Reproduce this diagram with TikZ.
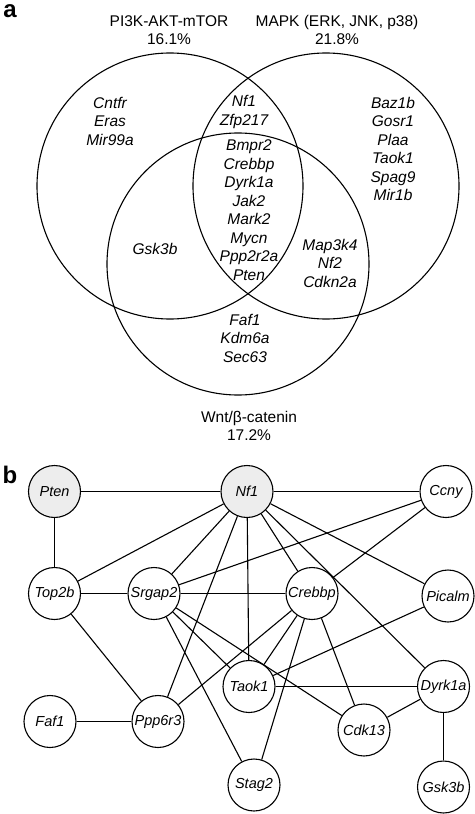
\documentclass[tikz,border=0pt]{standalone}
\usepackage{xcolor}
\usepackage{fontspec}
\setmainfont{Liberation Sans}
\usepackage{tikz}
\usetikzlibrary{positioning}
\definecolor{hitgray}{rgb}{0.93,0.93,0.93}

\begin{document}
\begin{tikzpicture}[x=1pt, y=-1pt, line width=1.1pt]
\tikzset{
    gene/.style = {circle, draw=black, fill=white, minimum size=52pt, inner sep=0pt,
        font=\fontsize{14.5}{16}\selectfont\itshape},
    hit/.style = {gene, fill=hitgray},
    venntext/.style = {align=center, font=\fontsize{15.5}{18.5}\selectfont\itshape},
    pathtext/.style = {align=center, font=\fontsize{15.5}{18.5}\selectfont},
    panel/.style = {font=\fontsize{24}{24}\selectfont\bfseries},
}
\useasboundingbox (0,0) rectangle (474,814);

% panel a
\node (pa) [panel] at (10,11) {a};
\draw (170,186) circle [radius=133pt];
\draw (326,186) circle [radius=133pt];
\draw (238,264) circle [radius=131pt];

\node (pi3k) [pathtext] at (169,30) {PI3K-AKT-mTOR\\16.1\%};
\node (mapk) [pathtext] at (337,30) {MAPK (ERK, JNK, p38)\\21.8\%};
\node (wnt) [pathtext] at (249,426) {Wnt/β-catenin\\17.2\%};

\node (onlypi) [venntext] at (110,121) {Cntfr\\Eras\\Mir99a};
\node (pimapk) [venntext] at (244,112) {Nf1\\Zfp217};
\node (all) [venntext] at (249,210) {Bmpr2\\Crebbp\\Dyrk1a\\Jak2\\Mark2\\Mycn\\Ppp2r2a\\Pten};
\node (onlymapk) [venntext] at (393,149) {Baz1b\\Gosr1\\Plaa\\Taok1\\Spag9\\Mir1b};
\node (piwnt) [venntext] at (155,249) {Gsk3b};
\node (mapkwnt) [venntext] at (330,263) {Map3k4\\Nf2\\Cdkn2a};
\node (onlywnt) [venntext] at (245,338) {Faf1\\Kdm6a\\Sec63};

% panel b
\node (pb) [panel] at (10,475) {b};

\node (pten) [hit] at (54.5,491.5) {Pten};
\node (nf1) [hit] at (247,491.5) {Nf1};
\node (ccny) [gene] at (446,491.5) {Ccny};
\node (top2b) [gene] at (54.5,593.5) {Top2b};
\node (srgap2) [gene] at (154,593.5) {Srgap2};
\node (crebbp) [gene] at (312,593.5) {Crebbp};
\node (picalm) [gene] at (448,596) {Picalm};
\node (taok1) [gene] at (249,686.5) {Taok1};
\node (dyrk1a) [gene] at (443.5,686.5) {Dyrk1a};
\node (faf1) [gene] at (50,721.5) {Faf1};
\node (ppp6r3) [gene] at (158,721.5) {Ppp6r3};
\node (cdk13) [gene] at (364,730) {Cdk13};
\node (stag2) [gene] at (254,785) {Stag2};
\node (gsk3b) [gene] at (443.5,787) {Gsk3b};

\draw (pten) -- (nf1);
\draw (nf1) -- (ccny);
\draw (pten) -- (top2b);
\draw (nf1) -- (top2b);
\draw (nf1) -- (srgap2);
\draw (nf1) -- (ppp6r3);
\draw (nf1) -- (taok1);
\draw (nf1) -- (crebbp);
\draw (nf1) -- (dyrk1a);
\draw (nf1) -- (picalm);
\draw (ccny) -- (srgap2);
\draw (ccny) -- (crebbp);
\draw (top2b) -- (srgap2);
\draw (srgap2) -- (crebbp);
\draw (top2b) -- (ppp6r3);
\draw (srgap2) -- (taok1);
\draw (srgap2) -- (cdk13);
\draw (srgap2) -- (stag2);
\draw (crebbp) -- (ppp6r3);
\draw (crebbp) -- (taok1);
\draw (crebbp) -- (stag2);
\draw (crebbp) -- (cdk13);
\draw (picalm) -- (taok1);
\draw (taok1) -- (dyrk1a);
\draw (cdk13) -- (dyrk1a);
\draw (dyrk1a) -- (gsk3b);
\draw (faf1) -- (ppp6r3);

\end{tikzpicture}
\end{document}
